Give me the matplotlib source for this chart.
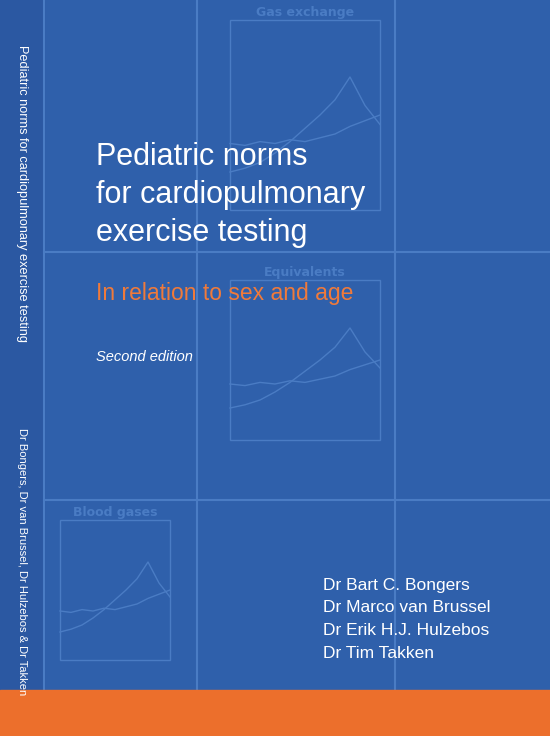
import matplotlib
matplotlib.use("Agg")
import matplotlib.pyplot as plt
from matplotlib.patches import Rectangle

title_lines = ["Pediatric norms", "for cardiopulmonary", "exercise testing"]
subtitle = "In relation to sex and age"
edition = "Second edition"
authors = ["Dr Bart C. Bongers", "Dr Marco van Brussel", "Dr Erik H.J. Hulzebos", "Dr Tim Takken"]
spine_title = "Pediatric norms for cardiopulmonary exercise testing"
spine_authors = "Dr Bongers, Dr van Brussel, Dr Hulzebos & Dr Takken"
panel_titles = ["Gas exchange", "Equivalents", "Blood gases"]
# faint background curves
trace_x = [0, 1, 2, 3, 4, 5, 6, 7, 8, 9, 10]
trace_a = [0.2, 0.22, 0.25, 0.3, 0.36, 0.43, 0.5, 0.58, 0.7, 0.55, 0.45]
trace_b = [0.35, 0.34, 0.36, 0.35, 0.37, 0.36, 0.38, 0.4, 0.44, 0.47, 0.5]

W, H = 550, 736
fig = plt.figure(figsize=(5.5, 7.36), dpi=100)
ax = fig.add_axes([0, 0, 1, 1])
ax.set_xlim(0, W); ax.set_ylim(H, 0); ax.axis("off")
bg = "#2f60ab"
ax.add_patch(Rectangle((0, 0), W, H, color=bg, zorder=0))
ax.add_patch(Rectangle((0, 0), 44, 690, color="#2b58a2", zorder=1))
ax.add_patch(Rectangle((0, 690), W, 46, color="#ec6f2c", zorder=5))

faint = "#4a7cc4"
for x in [44, 197, 395]:
    ax.plot([x, x], [0, 690], color=faint, lw=1.5, zorder=2)
for y in [252, 500]:
    ax.plot([44, W], [y, y], color=faint, lw=1.5, zorder=2)
panels = [(230, 20, 150, 190), (230, 280, 150, 160), (60, 520, 110, 140)]
for (px, py, pw, ph), t in zip(panels, panel_titles):
    ax.add_patch(Rectangle((px, py), pw, ph, fill=False, ec=faint, lw=1, zorder=2))
    ax.text(px + pw / 2, py - 4, t, color=faint, fontsize=9, ha="center", weight="bold", zorder=2)
    xs = [px + pw * v / 10 for v in trace_x]
    ax.plot(xs, [py + ph * (1 - v) for v in trace_a], color=faint, lw=1, zorder=2)
    ax.plot(xs, [py + ph * (1 - v) for v in trace_b], color=faint, lw=1, zorder=2)

for i, t in enumerate(title_lines):
    ax.text(96, 165 + i * 38, t, color="white", fontsize=22, family="Liberation Sans", va="baseline", zorder=6)
ax.text(96, 300, subtitle, color="#f07a3a", fontsize=16.5, family="Liberation Sans", va="baseline", zorder=6)
ax.text(96, 361, edition, color="white", fontsize=10.5, style="italic", family="Liberation Sans", va="baseline", zorder=6)
for i, a in enumerate(authors):
    ax.text(323, 590 + i * 22.5, a, color="white", fontsize=12.5, family="Liberation Sans", va="baseline", zorder=6)
ax.text(22, 45, spine_title, color="white", fontsize=9.2, rotation=-90, ha="center", va="top", family="Liberation Sans", zorder=6)
ax.text(22, 428, spine_authors, color="white", fontsize=8, rotation=-90, ha="center", va="top", family="Liberation Sans", zorder=6)
fig.savefig("out.png", dpi=100)
